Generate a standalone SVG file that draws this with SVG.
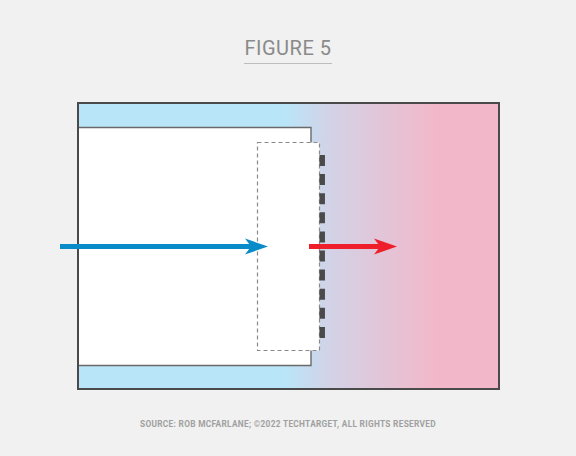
<svg xmlns="http://www.w3.org/2000/svg" width="576" height="456" viewBox="0 0 576 456">
<style>
.title{font-family:"Roboto","Liberation Sans",sans-serif;font-size:20px;fill:#8a8a8a;letter-spacing:0.5px}
.src{font-family:"Roboto","Liberation Sans",sans-serif;font-size:8.3px;font-weight:bold;fill:#a0a0a0;letter-spacing:0.3px}
</style>
<defs>
<linearGradient id="g" gradientUnits="userSpaceOnUse" x1="78" y1="0" x2="499" y2="0">
<stop offset="0.49" stop-color="#b9e5f9"/>
<stop offset="0.6" stop-color="#d3d2e6"/>
<stop offset="0.85" stop-color="#f2b8c9"/>
</linearGradient>
</defs>
<rect width="576" height="456" fill="#f0f1f0"/>
<g id="title">
<text class="title" x="288" y="55" text-anchor="middle">FIGURE 5</text>
<line x1="244" y1="63.5" x2="332" y2="63.5" stroke="#bdbdbd" stroke-width="1"/>
</g>
<g id="chamber">
<rect x="78" y="103" width="421" height="286" fill="url(#g)"/>
</g>
<g id="inner">
<path d="M78 127.5 H311 V365.5 H78" fill="#ffffff" stroke="#6a6a6a" stroke-width="1.4"/>
</g>
<g id="outer-border">
<rect x="78" y="103" width="421" height="286" fill="none" stroke="#4a4a4a" stroke-width="2"/>
</g>
<g id="dashed-box">
<rect x="257.5" y="142.5" width="62" height="208" fill="#ffffff" stroke="#8a8a8a" stroke-width="1.2" stroke-dasharray="4,3"/>
</g>
<g id="barrier">
<line x1="322.2" y1="155" x2="322.2" y2="338" stroke="#4a4a4a" stroke-width="5.5" stroke-dasharray="11,8.1"/>
</g>
<g id="connectors">
<line x1="60" y1="246.5" x2="252" y2="246.5" stroke="#0a8bc9" stroke-width="5"/>
<polygon points="268,246.5 245,238.5 251,246.5 245,254.5" fill="#0a8bc9"/>
<line x1="309" y1="246.5" x2="380" y2="246.5" stroke="#ee1f2b" stroke-width="5"/>
<polygon points="397,246.5 374,238.5 380,246.5 374,254.5" fill="#ee1f2b"/>
</g>
<g id="source">
<text class="src" x="288" y="427" text-anchor="middle">SOURCE: ROB MCFARLANE; ©2022 TECHTARGET, ALL RIGHTS RESERVED</text>
</g>
</svg>
